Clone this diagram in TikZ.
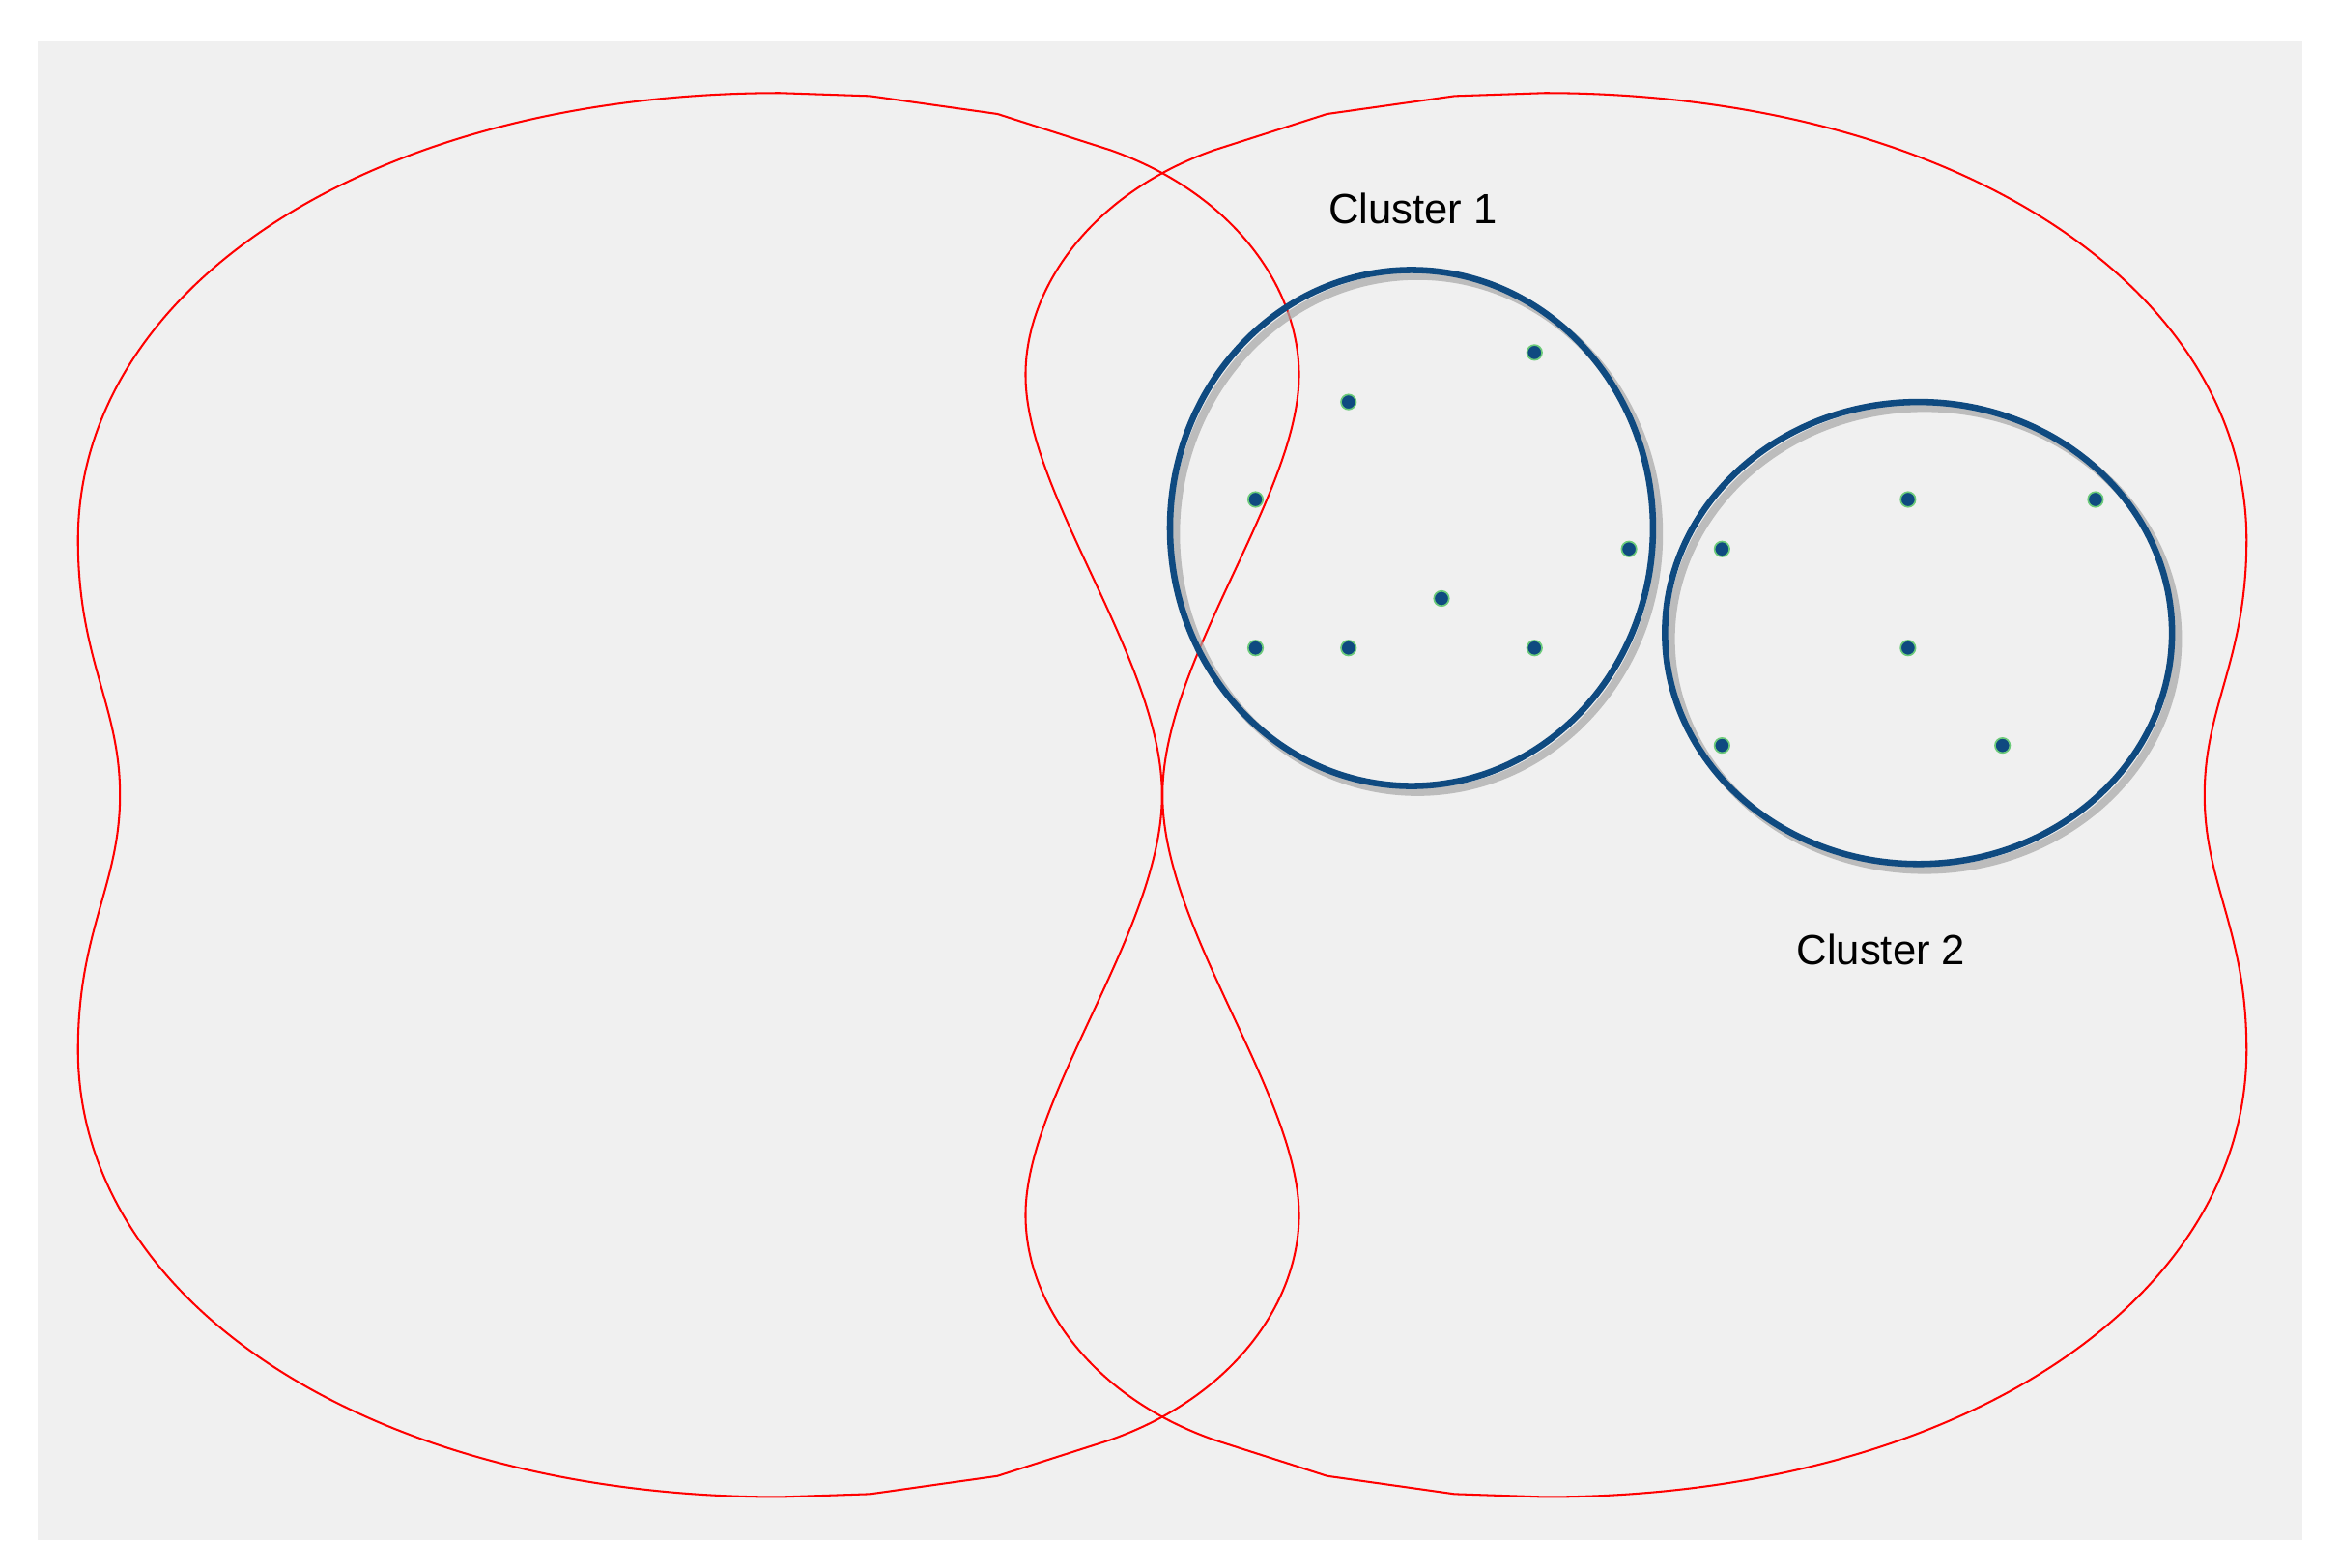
\documentclass[tikz,border=0pt]{standalone}
\usepackage{fontspec}
\setmainfont{Liberation Sans}
\definecolor{bg}{HTML}{F0F0F0}
\definecolor{cblue}{HTML}{0F4A80}
\definecolor{dotg}{HTML}{6CCB7A}
\tikzset{
  redline/.style={draw=red,line width=0.75pt},
  cluster/.style={draw=cblue,line width=2.4pt},
  cshadow/.style={draw=black!35,line width=3pt,opacity=0.7},
  pt/.style={circle,draw=dotg,fill=cblue,line width=0.6pt,inner sep=0pt,minimum size=0.2cm},
  lbl/.style={font=\fontsize{16}{19}\selectfont,text=black}
}
\begin{document}
\begin{tikzpicture}[x=0.02cm,y=-0.02cm]
\useasboundingbox (0,0) rectangle (1560,1045);
\fill[white] (0,0) rectangle (1560,1045);
\fill[bg] (25,27) rectangle (1535,1027);
\def\blob{(520,62) -- (580,64) -- (665,76) -- (740,100)
  .. controls (820,128) and (866,190) .. (866,250)
  .. controls (866,330) and (775,440) .. (775,530)
  .. controls (775,620) and (866,730) .. (866,810)
  .. controls (866,870) and (820,932) .. (740,960)
  -- (665,984) -- (580,996) -- (520,998)
  .. controls (250,998) and (52,870) .. (52,700)
  .. controls (52,620) and (80,590) .. (80,530)
  .. controls (80,470) and (52,440) .. (52,360)
  .. controls (52,190) and (250,62) .. (520,62) -- cycle}
\draw[redline] \blob;
\begin{scope}[xshift=31cm,xscale=-1]
\draw[redline] \blob;
\end{scope}
\draw[cshadow] (945,356) ellipse [x radius=161,y radius=172];
\draw[cshadow] (1283,426) ellipse [x radius=169,y radius=154];
\draw[cluster] (941,352) ellipse [x radius=161,y radius=172];
\draw[cluster] (1279,422) ellipse [x radius=169,y radius=154];
\node[lbl] (l1) at (942,139) {Cluster 1};
\node[lbl] (l2) at (1254,633) {Cluster 2};
\foreach \n/\x/\y in {a/1023/235,b/899/268,c/837/333,d/1086/366,e/961/399,f/837/432,g/899/432,h/1023/432,i/1272/333,j/1397/333,k/1148/366,l/1272/432,m/1148/497,n/1335/497}
  \node[pt] (p\n) at (\x,\y) {};
\end{tikzpicture}
\end{document}
